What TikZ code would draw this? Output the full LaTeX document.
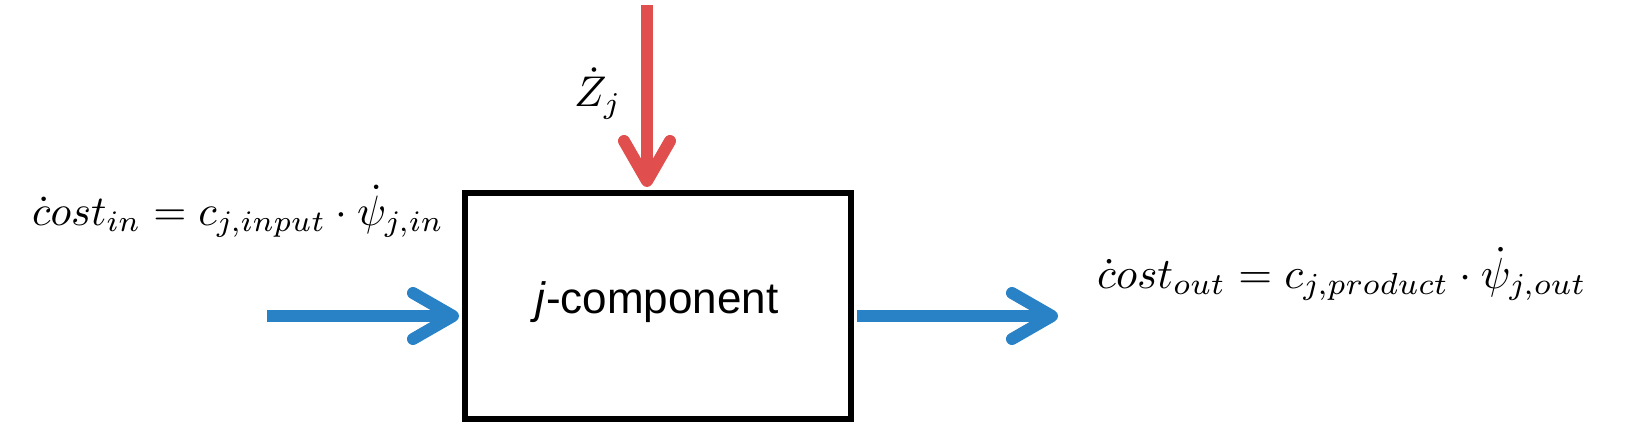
\documentclass[tikz,border=0pt]{standalone}
\usepackage{graphicx}
\usepackage{fontspec}
\setmainfont{Liberation Sans}
\usetikzlibrary{arrows.meta}
\definecolor{flowblue}{RGB}{42,130,198}
\definecolor{flowred}{RGB}{224,78,78}
\begin{document}
\begin{tikzpicture}[x=1pt,y=-1pt,
  flowarrow/.style={line width=12pt,
    -{Straight Barb[length=40pt,width=46pt,round,line width=12pt]}},
  bluearrow/.style={flowarrow,draw=flowblue},
  redarrow/.style={flowarrow,draw=flowred},
  compbox/.style={draw=black,line width=6pt,minimum width=386pt,minimum height=226pt,inner sep=0pt},
  mathlabel/.style={inner sep=0pt,anchor=base west}]
\useasboundingbox (0,0) rectangle (1651,441);
\node[compbox] (comp) at (658,306) {};
\node[inner sep=0pt,anchor=base,font=\fontsize{44}{52}\selectfont] (complabel) at (657,313) {\textit{j}-component};
\coordinate (inS) at (267,316);
\coordinate (outE) at (1058,316);
\coordinate (zS) at (647,5);
\draw[bluearrow,shorten >=3pt] (inS) -- (comp.west |- inS);
\draw[bluearrow,shorten <=3pt] (comp.east |- outE) -- (outE);
\draw[redarrow,shorten >=3pt] (zS) -- (zS |- comp.north);
\node[mathlabel] (zlabel) at (574,107) {\scalebox{4.3}{$\dot{Z}_j$}};
\node[mathlabel] (inlabel) at (32,225) {\scalebox{4.25}{$\dot{c}ost_{in}=c_{j,input}\cdot\dot{\psi}_{j,in}$}};
\node[mathlabel] (outlabel) at (1097,288) {\scalebox{4.35}{$\dot{c}ost_{out}=c_{j,product}\cdot\dot{\psi}_{j,out}$}};
\end{tikzpicture}
\end{document}
